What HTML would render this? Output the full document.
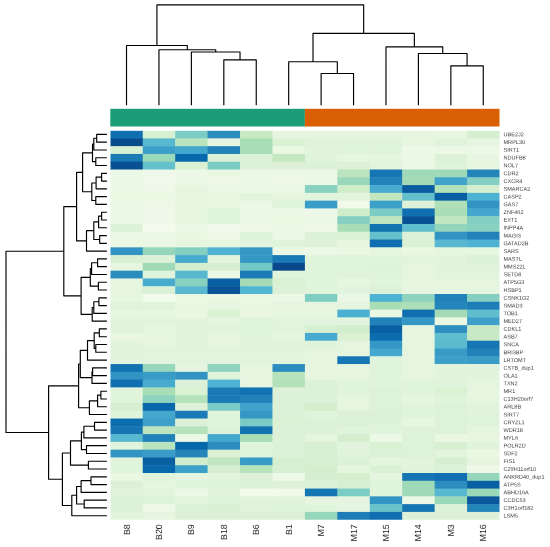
<!DOCTYPE html>
<html><head><meta charset="utf-8"><title>Clustermap</title>
<style>
html,body{margin:0;padding:0;background:#fff}
svg{display:block}
text{font-family:"Liberation Sans",Arial,sans-serif;text-rendering:geometricPrecision}
.rl{font-size:5.55px;fill:#444}
.cl{font-size:8.9px;fill:#262626}
.d{fill:none;stroke:#000;stroke-width:1.15;stroke-linejoin:round}
</style></head><body>
<svg width="550" height="547" viewBox="0 0 550 547">
<rect width="550" height="547" fill="#fff"/>
<defs><clipPath id="hc"><rect x="110.30" y="130.60" width="389.20" height="389.10"/></clipPath></defs>
<g clip-path="url(#hc)">
<rect x="110.30" y="130.60" width="32.93" height="8.28" fill="#0f6fb0"/><rect x="142.73" y="130.60" width="32.93" height="8.28" fill="#d8f0d2"/><rect x="175.17" y="130.60" width="32.93" height="8.28" fill="#7bccc4"/><rect x="207.60" y="130.60" width="32.93" height="8.28" fill="#2b8cbe"/><rect x="240.03" y="130.60" width="32.93" height="8.28" fill="#c8eac3"/><rect x="272.47" y="130.60" width="32.93" height="8.28" fill="#e5f5df"/><rect x="304.90" y="130.60" width="32.93" height="8.28" fill="#e5f5df"/><rect x="337.33" y="130.60" width="32.93" height="8.28" fill="#e5f5df"/><rect x="369.77" y="130.60" width="32.93" height="8.28" fill="#e5f5df"/><rect x="402.20" y="130.60" width="32.93" height="8.28" fill="#e5f5df"/><rect x="434.63" y="130.60" width="32.93" height="8.28" fill="#e7f6e1"/><rect x="467.07" y="130.60" width="32.93" height="8.28" fill="#d6efd0"/>
<rect x="110.30" y="138.38" width="32.93" height="8.28" fill="#084c8e"/><rect x="142.73" y="138.38" width="32.93" height="8.28" fill="#57b8d0"/><rect x="175.17" y="138.38" width="32.93" height="8.28" fill="#bae4bd"/><rect x="207.60" y="138.38" width="32.93" height="8.28" fill="#e5f5df"/><rect x="240.03" y="138.38" width="32.93" height="8.28" fill="#a8ddb5"/><rect x="272.47" y="138.38" width="32.93" height="8.28" fill="#daf1d4"/><rect x="304.90" y="138.38" width="32.93" height="8.28" fill="#e0f3db"/><rect x="337.33" y="138.38" width="32.93" height="8.28" fill="#e0f3db"/><rect x="369.77" y="138.38" width="32.93" height="8.28" fill="#e0f3db"/><rect x="402.20" y="138.38" width="32.93" height="8.28" fill="#e7f6e1"/><rect x="434.63" y="138.38" width="32.93" height="8.28" fill="#e0f3db"/><rect x="467.07" y="138.38" width="32.93" height="8.28" fill="#e5f5df"/>
<rect x="110.30" y="146.16" width="32.93" height="8.28" fill="#d6efd0"/><rect x="142.73" y="146.16" width="32.93" height="8.28" fill="#3ca0c8"/><rect x="175.17" y="146.16" width="32.93" height="8.28" fill="#44a7cd"/><rect x="207.60" y="146.16" width="32.93" height="8.28" fill="#2181b9"/><rect x="240.03" y="146.16" width="32.93" height="8.28" fill="#a8ddb5"/><rect x="272.47" y="146.16" width="32.93" height="8.28" fill="#e9f7e3"/><rect x="304.90" y="146.16" width="32.93" height="8.28" fill="#e2f4dd"/><rect x="337.33" y="146.16" width="32.93" height="8.28" fill="#e0f3db"/><rect x="369.77" y="146.16" width="32.93" height="8.28" fill="#e0f3db"/><rect x="402.20" y="146.16" width="32.93" height="8.28" fill="#eef8e8"/><rect x="434.63" y="146.16" width="32.93" height="8.28" fill="#ecf8e6"/><rect x="467.07" y="146.16" width="32.93" height="8.28" fill="#ecf8e6"/>
<rect x="110.30" y="153.95" width="32.93" height="8.28" fill="#1a7ab5"/><rect x="142.73" y="153.95" width="32.93" height="8.28" fill="#9ad8ba"/><rect x="175.17" y="153.95" width="32.93" height="8.28" fill="#0868ac"/><rect x="207.60" y="153.95" width="32.93" height="8.28" fill="#dcf1d7"/><rect x="240.03" y="153.95" width="32.93" height="8.28" fill="#dcf1d7"/><rect x="272.47" y="153.95" width="32.93" height="8.28" fill="#c5e8c2"/><rect x="304.90" y="153.95" width="32.93" height="8.28" fill="#e0f3db"/><rect x="337.33" y="153.95" width="32.93" height="8.28" fill="#e7f6e1"/><rect x="369.77" y="153.95" width="32.93" height="8.28" fill="#e5f5df"/><rect x="402.20" y="153.95" width="32.93" height="8.28" fill="#ecf8e6"/><rect x="434.63" y="153.95" width="32.93" height="8.28" fill="#dcf1d7"/><rect x="467.07" y="153.95" width="32.93" height="8.28" fill="#e7f6e1"/>
<rect x="110.30" y="161.73" width="32.93" height="8.28" fill="#085092"/><rect x="142.73" y="161.73" width="32.93" height="8.28" fill="#64c0cc"/><rect x="175.17" y="161.73" width="32.93" height="8.28" fill="#daf1d4"/><rect x="207.60" y="161.73" width="32.93" height="8.28" fill="#7bccc4"/><rect x="240.03" y="161.73" width="32.93" height="8.28" fill="#dcf1d7"/><rect x="272.47" y="161.73" width="32.93" height="8.28" fill="#dcf1d7"/><rect x="304.90" y="161.73" width="32.93" height="8.28" fill="#dcf1d7"/><rect x="337.33" y="161.73" width="32.93" height="8.28" fill="#dcf1d7"/><rect x="369.77" y="161.73" width="32.93" height="8.28" fill="#e2f4dd"/><rect x="402.20" y="161.73" width="32.93" height="8.28" fill="#ecf8e6"/><rect x="434.63" y="161.73" width="32.93" height="8.28" fill="#e0f3db"/><rect x="467.07" y="161.73" width="32.93" height="8.28" fill="#e7f6e1"/>
<rect x="110.30" y="169.51" width="32.93" height="8.28" fill="#ecf8e6"/><rect x="142.73" y="169.51" width="32.93" height="8.28" fill="#eef8e8"/><rect x="175.17" y="169.51" width="32.93" height="8.28" fill="#ecf8e6"/><rect x="207.60" y="169.51" width="32.93" height="8.28" fill="#e9f7e3"/><rect x="240.03" y="169.51" width="32.93" height="8.28" fill="#ecf8e6"/><rect x="272.47" y="169.51" width="32.93" height="8.28" fill="#ecf8e6"/><rect x="304.90" y="169.51" width="32.93" height="8.28" fill="#ecf8e6"/><rect x="337.33" y="169.51" width="32.93" height="8.28" fill="#bae4bd"/><rect x="369.77" y="169.51" width="32.93" height="8.28" fill="#1676b3"/><rect x="402.20" y="169.51" width="32.93" height="8.28" fill="#9fdab8"/><rect x="434.63" y="169.51" width="32.93" height="8.28" fill="#9fdab8"/><rect x="467.07" y="169.51" width="32.93" height="8.28" fill="#2485ba"/>
<rect x="110.30" y="177.29" width="32.93" height="8.28" fill="#ecf8e6"/><rect x="142.73" y="177.29" width="32.93" height="8.28" fill="#f0f9ea"/><rect x="175.17" y="177.29" width="32.93" height="8.28" fill="#ecf8e6"/><rect x="207.60" y="177.29" width="32.93" height="8.28" fill="#eef8e8"/><rect x="240.03" y="177.29" width="32.93" height="8.28" fill="#ecf8e6"/><rect x="272.47" y="177.29" width="32.93" height="8.28" fill="#eef8e8"/><rect x="304.90" y="177.29" width="32.93" height="8.28" fill="#ecf8e6"/><rect x="337.33" y="177.29" width="32.93" height="8.28" fill="#9ad8ba"/><rect x="369.77" y="177.29" width="32.93" height="8.28" fill="#2181b9"/><rect x="402.20" y="177.29" width="32.93" height="8.28" fill="#a4dbb6"/><rect x="434.63" y="177.29" width="32.93" height="8.28" fill="#40a3cb"/><rect x="467.07" y="177.29" width="32.93" height="8.28" fill="#84cfc1"/>
<rect x="110.30" y="185.07" width="32.93" height="8.28" fill="#ecf8e6"/><rect x="142.73" y="185.07" width="32.93" height="8.28" fill="#eef8e8"/><rect x="175.17" y="185.07" width="32.93" height="8.28" fill="#e5f5df"/><rect x="207.60" y="185.07" width="32.93" height="8.28" fill="#ecf8e6"/><rect x="240.03" y="185.07" width="32.93" height="8.28" fill="#ecf8e6"/><rect x="272.47" y="185.07" width="32.93" height="8.28" fill="#ecf8e6"/><rect x="304.90" y="185.07" width="32.93" height="8.28" fill="#88d1c0"/><rect x="337.33" y="185.07" width="32.93" height="8.28" fill="#d0edc9"/><rect x="369.77" y="185.07" width="32.93" height="8.28" fill="#47abcf"/><rect x="402.20" y="185.07" width="32.93" height="8.28" fill="#085c9f"/><rect x="434.63" y="185.07" width="32.93" height="8.28" fill="#b3e1ba"/><rect x="467.07" y="185.07" width="32.93" height="8.28" fill="#d6efd0"/>
<rect x="110.30" y="192.86" width="32.93" height="8.28" fill="#e9f7e3"/><rect x="142.73" y="192.86" width="32.93" height="8.28" fill="#e9f7e3"/><rect x="175.17" y="192.86" width="32.93" height="8.28" fill="#e6f5e0"/><rect x="207.60" y="192.86" width="32.93" height="8.28" fill="#e7f6e1"/><rect x="240.03" y="192.86" width="32.93" height="8.28" fill="#e2f4dd"/><rect x="272.47" y="192.86" width="32.93" height="8.28" fill="#e5f5df"/><rect x="304.90" y="192.86" width="32.93" height="8.28" fill="#e2f4dd"/><rect x="337.33" y="192.86" width="32.93" height="8.28" fill="#e2f4dd"/><rect x="369.77" y="192.86" width="32.93" height="8.28" fill="#c3e8c1"/><rect x="402.20" y="192.86" width="32.93" height="8.28" fill="#64c0cc"/><rect x="434.63" y="192.86" width="32.93" height="8.28" fill="#0860a3"/><rect x="467.07" y="192.86" width="32.93" height="8.28" fill="#4eb3d3"/>
<rect x="110.30" y="200.64" width="32.93" height="8.28" fill="#ecf8e6"/><rect x="142.73" y="200.64" width="32.93" height="8.28" fill="#eef8e8"/><rect x="175.17" y="200.64" width="32.93" height="8.28" fill="#e7f6e1"/><rect x="207.60" y="200.64" width="32.93" height="8.28" fill="#e9f7e3"/><rect x="240.03" y="200.64" width="32.93" height="8.28" fill="#ecf8e6"/><rect x="272.47" y="200.64" width="32.93" height="8.28" fill="#e0f3db"/><rect x="304.90" y="200.64" width="32.93" height="8.28" fill="#399cc6"/><rect x="337.33" y="200.64" width="32.93" height="8.28" fill="#f0f9ea"/><rect x="369.77" y="200.64" width="32.93" height="8.28" fill="#3ca0c8"/><rect x="402.20" y="200.64" width="32.93" height="8.28" fill="#def2d9"/><rect x="434.63" y="200.64" width="32.93" height="8.28" fill="#afe0b8"/><rect x="467.07" y="200.64" width="32.93" height="8.28" fill="#3294c2"/>
<rect x="110.30" y="208.42" width="32.93" height="8.28" fill="#ecf8e6"/><rect x="142.73" y="208.42" width="32.93" height="8.28" fill="#eff9e9"/><rect x="175.17" y="208.42" width="32.93" height="8.28" fill="#e5f5df"/><rect x="207.60" y="208.42" width="32.93" height="8.28" fill="#e0f3db"/><rect x="240.03" y="208.42" width="32.93" height="8.28" fill="#ecf8e6"/><rect x="272.47" y="208.42" width="32.93" height="8.28" fill="#ecf8e6"/><rect x="304.90" y="208.42" width="32.93" height="8.28" fill="#eef8e8"/><rect x="337.33" y="208.42" width="32.93" height="8.28" fill="#d0edc9"/><rect x="369.77" y="208.42" width="32.93" height="8.28" fill="#7bccc4"/><rect x="402.20" y="208.42" width="32.93" height="8.28" fill="#0f6fb0"/><rect x="434.63" y="208.42" width="32.93" height="8.28" fill="#a8ddb5"/><rect x="467.07" y="208.42" width="32.93" height="8.28" fill="#44a7cd"/>
<rect x="110.30" y="216.20" width="32.93" height="8.28" fill="#ecf8e6"/><rect x="142.73" y="216.20" width="32.93" height="8.28" fill="#eff9e9"/><rect x="175.17" y="216.20" width="32.93" height="8.28" fill="#e5f5df"/><rect x="207.60" y="216.20" width="32.93" height="8.28" fill="#e0f3db"/><rect x="240.03" y="216.20" width="32.93" height="8.28" fill="#ecf8e6"/><rect x="272.47" y="216.20" width="32.93" height="8.28" fill="#e9f7e3"/><rect x="304.90" y="216.20" width="32.93" height="8.28" fill="#ecf8e6"/><rect x="337.33" y="216.20" width="32.93" height="8.28" fill="#84cfc1"/><rect x="369.77" y="216.20" width="32.93" height="8.28" fill="#bee5bf"/><rect x="402.20" y="216.20" width="32.93" height="8.28" fill="#085092"/><rect x="434.63" y="216.20" width="32.93" height="8.28" fill="#c1e7c0"/><rect x="467.07" y="216.20" width="32.93" height="8.28" fill="#84cfc1"/>
<rect x="110.30" y="223.98" width="32.93" height="8.28" fill="#dcf1d7"/><rect x="142.73" y="223.98" width="32.93" height="8.28" fill="#f4fbed"/><rect x="175.17" y="223.98" width="32.93" height="8.28" fill="#ecf8e6"/><rect x="207.60" y="223.98" width="32.93" height="8.28" fill="#f0f9ea"/><rect x="240.03" y="223.98" width="32.93" height="8.28" fill="#eef8e8"/><rect x="272.47" y="223.98" width="32.93" height="8.28" fill="#ecf8e6"/><rect x="304.90" y="223.98" width="32.93" height="8.28" fill="#eef8e8"/><rect x="337.33" y="223.98" width="32.93" height="8.28" fill="#a8ddb5"/><rect x="369.77" y="223.98" width="32.93" height="8.28" fill="#1273b1"/><rect x="402.20" y="223.98" width="32.93" height="8.28" fill="#60bdcd"/><rect x="434.63" y="223.98" width="32.93" height="8.28" fill="#92d4bc"/><rect x="467.07" y="223.98" width="32.93" height="8.28" fill="#88d1c0"/>
<rect x="110.30" y="231.77" width="32.93" height="8.28" fill="#eaf7e4"/><rect x="142.73" y="231.77" width="32.93" height="8.28" fill="#ecf8e6"/><rect x="175.17" y="231.77" width="32.93" height="8.28" fill="#e9f7e3"/><rect x="207.60" y="231.77" width="32.93" height="8.28" fill="#eff9e9"/><rect x="240.03" y="231.77" width="32.93" height="8.28" fill="#def2d9"/><rect x="272.47" y="231.77" width="32.93" height="8.28" fill="#ecf8e6"/><rect x="304.90" y="231.77" width="32.93" height="8.28" fill="#dcf1d7"/><rect x="337.33" y="231.77" width="32.93" height="8.28" fill="#daf1d4"/><rect x="369.77" y="231.77" width="32.93" height="8.28" fill="#64c0cc"/><rect x="402.20" y="231.77" width="32.93" height="8.28" fill="#dcf1d7"/><rect x="434.63" y="231.77" width="32.93" height="8.28" fill="#3294c2"/><rect x="467.07" y="231.77" width="32.93" height="8.28" fill="#2181b9"/>
<rect x="110.30" y="239.55" width="32.93" height="8.28" fill="#e9f7e3"/><rect x="142.73" y="239.55" width="32.93" height="8.28" fill="#e9f7e3"/><rect x="175.17" y="239.55" width="32.93" height="8.28" fill="#e5f5df"/><rect x="207.60" y="239.55" width="32.93" height="8.28" fill="#e7f6e1"/><rect x="240.03" y="239.55" width="32.93" height="8.28" fill="#e2f4dd"/><rect x="272.47" y="239.55" width="32.93" height="8.28" fill="#e0f3db"/><rect x="304.90" y="239.55" width="32.93" height="8.28" fill="#def2d9"/><rect x="337.33" y="239.55" width="32.93" height="8.28" fill="#e7f6e1"/><rect x="369.77" y="239.55" width="32.93" height="8.28" fill="#0f6fb0"/><rect x="402.20" y="239.55" width="32.93" height="8.28" fill="#daf1d4"/><rect x="434.63" y="239.55" width="32.93" height="8.28" fill="#57b8d0"/><rect x="467.07" y="239.55" width="32.93" height="8.28" fill="#4eb3d3"/>
<rect x="110.30" y="247.33" width="32.93" height="8.28" fill="#3294c2"/><rect x="142.73" y="247.33" width="32.93" height="8.28" fill="#96d6bb"/><rect x="175.17" y="247.33" width="32.93" height="8.28" fill="#84cfc1"/><rect x="207.60" y="247.33" width="32.93" height="8.28" fill="#4eb3d3"/><rect x="240.03" y="247.33" width="32.93" height="8.28" fill="#3598c4"/><rect x="272.47" y="247.33" width="32.93" height="8.28" fill="#ecf8e6"/><rect x="304.90" y="247.33" width="32.93" height="8.28" fill="#ecf8e6"/><rect x="337.33" y="247.33" width="32.93" height="8.28" fill="#e9f7e3"/><rect x="369.77" y="247.33" width="32.93" height="8.28" fill="#e5f5df"/><rect x="402.20" y="247.33" width="32.93" height="8.28" fill="#e9f7e3"/><rect x="434.63" y="247.33" width="32.93" height="8.28" fill="#e7f6e1"/><rect x="467.07" y="247.33" width="32.93" height="8.28" fill="#e7f6e1"/>
<rect x="110.30" y="255.11" width="32.93" height="8.28" fill="#d8f0d2"/><rect x="142.73" y="255.11" width="32.93" height="8.28" fill="#dcf1d7"/><rect x="175.17" y="255.11" width="32.93" height="8.28" fill="#47abcf"/><rect x="207.60" y="255.11" width="32.93" height="8.28" fill="#e2f4dd"/><rect x="240.03" y="255.11" width="32.93" height="8.28" fill="#3598c4"/><rect x="272.47" y="255.11" width="32.93" height="8.28" fill="#1a7ab5"/><rect x="304.90" y="255.11" width="32.93" height="8.28" fill="#e0f3db"/><rect x="337.33" y="255.11" width="32.93" height="8.28" fill="#e0f3db"/><rect x="369.77" y="255.11" width="32.93" height="8.28" fill="#e0f3db"/><rect x="402.20" y="255.11" width="32.93" height="8.28" fill="#e2f4dd"/><rect x="434.63" y="255.11" width="32.93" height="8.28" fill="#e2f4dd"/><rect x="467.07" y="255.11" width="32.93" height="8.28" fill="#dcf1d7"/>
<rect x="110.30" y="262.89" width="32.93" height="8.28" fill="#e7f6e1"/><rect x="142.73" y="262.89" width="32.93" height="8.28" fill="#a1dab7"/><rect x="175.17" y="262.89" width="32.93" height="8.28" fill="#d4eece"/><rect x="207.60" y="262.89" width="32.93" height="8.28" fill="#d6efd0"/><rect x="240.03" y="262.89" width="32.93" height="8.28" fill="#72c7c7"/><rect x="272.47" y="262.89" width="32.93" height="8.28" fill="#08488a"/><rect x="304.90" y="262.89" width="32.93" height="8.28" fill="#e0f3db"/><rect x="337.33" y="262.89" width="32.93" height="8.28" fill="#e0f3db"/><rect x="369.77" y="262.89" width="32.93" height="8.28" fill="#def2d9"/><rect x="402.20" y="262.89" width="32.93" height="8.28" fill="#e5f5df"/><rect x="434.63" y="262.89" width="32.93" height="8.28" fill="#e2f4dd"/><rect x="467.07" y="262.89" width="32.93" height="8.28" fill="#e0f3db"/>
<rect x="110.30" y="270.68" width="32.93" height="8.28" fill="#2b8cbe"/><rect x="142.73" y="270.68" width="32.93" height="8.28" fill="#e0f3db"/><rect x="175.17" y="270.68" width="32.93" height="8.28" fill="#57b8d0"/><rect x="207.60" y="270.68" width="32.93" height="8.28" fill="#ecf8e6"/><rect x="240.03" y="270.68" width="32.93" height="8.28" fill="#1a7ab5"/><rect x="272.47" y="270.68" width="32.93" height="8.28" fill="#e0f3db"/><rect x="304.90" y="270.68" width="32.93" height="8.28" fill="#e0f3db"/><rect x="337.33" y="270.68" width="32.93" height="8.28" fill="#e0f3db"/><rect x="369.77" y="270.68" width="32.93" height="8.28" fill="#e0f3db"/><rect x="402.20" y="270.68" width="32.93" height="8.28" fill="#e5f5df"/><rect x="434.63" y="270.68" width="32.93" height="8.28" fill="#e2f4dd"/><rect x="467.07" y="270.68" width="32.93" height="8.28" fill="#e2f4dd"/>
<rect x="110.30" y="278.46" width="32.93" height="8.28" fill="#e6f5e0"/><rect x="142.73" y="278.46" width="32.93" height="8.28" fill="#47abcf"/><rect x="175.17" y="278.46" width="32.93" height="8.28" fill="#88d1c0"/><rect x="207.60" y="278.46" width="32.93" height="8.28" fill="#0860a3"/><rect x="240.03" y="278.46" width="32.93" height="8.28" fill="#a4dbb6"/><rect x="272.47" y="278.46" width="32.93" height="8.28" fill="#daf1d4"/><rect x="304.90" y="278.46" width="32.93" height="8.28" fill="#e0f3db"/><rect x="337.33" y="278.46" width="32.93" height="8.28" fill="#e7f6e1"/><rect x="369.77" y="278.46" width="32.93" height="8.28" fill="#e0f3db"/><rect x="402.20" y="278.46" width="32.93" height="8.28" fill="#e7f6e1"/><rect x="434.63" y="278.46" width="32.93" height="8.28" fill="#e5f5df"/><rect x="467.07" y="278.46" width="32.93" height="8.28" fill="#e5f5df"/>
<rect x="110.30" y="286.24" width="32.93" height="8.28" fill="#e6f5e0"/><rect x="142.73" y="286.24" width="32.93" height="8.28" fill="#dbf1d6"/><rect x="175.17" y="286.24" width="32.93" height="8.28" fill="#57b8d0"/><rect x="207.60" y="286.24" width="32.93" height="8.28" fill="#085496"/><rect x="240.03" y="286.24" width="32.93" height="8.28" fill="#52b6d2"/><rect x="272.47" y="286.24" width="32.93" height="8.28" fill="#dcf1d7"/><rect x="304.90" y="286.24" width="32.93" height="8.28" fill="#e0f3db"/><rect x="337.33" y="286.24" width="32.93" height="8.28" fill="#e2f4dd"/><rect x="369.77" y="286.24" width="32.93" height="8.28" fill="#dcf1d7"/><rect x="402.20" y="286.24" width="32.93" height="8.28" fill="#e5f5df"/><rect x="434.63" y="286.24" width="32.93" height="8.28" fill="#e5f5df"/><rect x="467.07" y="286.24" width="32.93" height="8.28" fill="#e5f5df"/>
<rect x="110.30" y="294.02" width="32.93" height="8.28" fill="#e7f6e1"/><rect x="142.73" y="294.02" width="32.93" height="8.28" fill="#f2faec"/><rect x="175.17" y="294.02" width="32.93" height="8.28" fill="#e9f7e3"/><rect x="207.60" y="294.02" width="32.93" height="8.28" fill="#e9f7e3"/><rect x="240.03" y="294.02" width="32.93" height="8.28" fill="#e9f7e3"/><rect x="272.47" y="294.02" width="32.93" height="8.28" fill="#ecf8e6"/><rect x="304.90" y="294.02" width="32.93" height="8.28" fill="#80cec2"/><rect x="337.33" y="294.02" width="32.93" height="8.28" fill="#ecf8e6"/><rect x="369.77" y="294.02" width="32.93" height="8.28" fill="#4eb3d3"/><rect x="402.20" y="294.02" width="32.93" height="8.28" fill="#8dd3be"/><rect x="434.63" y="294.02" width="32.93" height="8.28" fill="#2181b9"/><rect x="467.07" y="294.02" width="32.93" height="8.28" fill="#84cfc1"/>
<rect x="110.30" y="301.80" width="32.93" height="8.28" fill="#e0f3db"/><rect x="142.73" y="301.80" width="32.93" height="8.28" fill="#e0f3db"/><rect x="175.17" y="301.80" width="32.93" height="8.28" fill="#e9f7e3"/><rect x="207.60" y="301.80" width="32.93" height="8.28" fill="#e7f6e1"/><rect x="240.03" y="301.80" width="32.93" height="8.28" fill="#e9f7e3"/><rect x="272.47" y="301.80" width="32.93" height="8.28" fill="#e6f5e0"/><rect x="304.90" y="301.80" width="32.93" height="8.28" fill="#e5f5df"/><rect x="337.33" y="301.80" width="32.93" height="8.28" fill="#e5f5df"/><rect x="369.77" y="301.80" width="32.93" height="8.28" fill="#a8ddb5"/><rect x="402.20" y="301.80" width="32.93" height="8.28" fill="#acdeb7"/><rect x="434.63" y="301.80" width="32.93" height="8.28" fill="#2485ba"/><rect x="467.07" y="301.80" width="32.93" height="8.28" fill="#1d7eb7"/>
<rect x="110.30" y="309.59" width="32.93" height="8.28" fill="#e7f6e1"/><rect x="142.73" y="309.59" width="32.93" height="8.28" fill="#e7f6e1"/><rect x="175.17" y="309.59" width="32.93" height="8.28" fill="#e9f7e3"/><rect x="207.60" y="309.59" width="32.93" height="8.28" fill="#daf1d4"/><rect x="240.03" y="309.59" width="32.93" height="8.28" fill="#e9f7e3"/><rect x="272.47" y="309.59" width="32.93" height="8.28" fill="#e7f6e1"/><rect x="304.90" y="309.59" width="32.93" height="8.28" fill="#e7f6e1"/><rect x="337.33" y="309.59" width="32.93" height="8.28" fill="#4bafd1"/><rect x="369.77" y="309.59" width="32.93" height="8.28" fill="#e9f7e3"/><rect x="402.20" y="309.59" width="32.93" height="8.28" fill="#0f6fb0"/><rect x="434.63" y="309.59" width="32.93" height="8.28" fill="#a4dbb6"/><rect x="467.07" y="309.59" width="32.93" height="8.28" fill="#60bdcd"/>
<rect x="110.30" y="317.37" width="32.93" height="8.28" fill="#e2f4dd"/><rect x="142.73" y="317.37" width="32.93" height="8.28" fill="#e2f4dd"/><rect x="175.17" y="317.37" width="32.93" height="8.28" fill="#e2f4dd"/><rect x="207.60" y="317.37" width="32.93" height="8.28" fill="#e5f5df"/><rect x="240.03" y="317.37" width="32.93" height="8.28" fill="#e0f3db"/><rect x="272.47" y="317.37" width="32.93" height="8.28" fill="#e2f4dd"/><rect x="304.90" y="317.37" width="32.93" height="8.28" fill="#e2f4dd"/><rect x="337.33" y="317.37" width="32.93" height="8.28" fill="#e2f4dd"/><rect x="369.77" y="317.37" width="32.93" height="8.28" fill="#2181b9"/><rect x="402.20" y="317.37" width="32.93" height="8.28" fill="#3598c4"/><rect x="434.63" y="317.37" width="32.93" height="8.28" fill="#e9f7e3"/><rect x="467.07" y="317.37" width="32.93" height="8.28" fill="#3ca0c8"/>
<rect x="110.30" y="325.15" width="32.93" height="8.28" fill="#e1f3dc"/><rect x="142.73" y="325.15" width="32.93" height="8.28" fill="#e5f5df"/><rect x="175.17" y="325.15" width="32.93" height="8.28" fill="#e1f3dc"/><rect x="207.60" y="325.15" width="32.93" height="8.28" fill="#e3f4de"/><rect x="240.03" y="325.15" width="32.93" height="8.28" fill="#e0f3db"/><rect x="272.47" y="325.15" width="32.93" height="8.28" fill="#e2f4dd"/><rect x="304.90" y="325.15" width="32.93" height="8.28" fill="#d8f0d2"/><rect x="337.33" y="325.15" width="32.93" height="8.28" fill="#d3eecd"/><rect x="369.77" y="325.15" width="32.93" height="8.28" fill="#0860a3"/><rect x="402.20" y="325.15" width="32.93" height="8.28" fill="#e6f5e0"/><rect x="434.63" y="325.15" width="32.93" height="8.28" fill="#2e90c0"/><rect x="467.07" y="325.15" width="32.93" height="8.28" fill="#c7e9c3"/>
<rect x="110.30" y="332.93" width="32.93" height="8.28" fill="#e9f7e3"/><rect x="142.73" y="332.93" width="32.93" height="8.28" fill="#e5f5df"/><rect x="175.17" y="332.93" width="32.93" height="8.28" fill="#e1f3dc"/><rect x="207.60" y="332.93" width="32.93" height="8.28" fill="#e5f5df"/><rect x="240.03" y="332.93" width="32.93" height="8.28" fill="#e0f3db"/><rect x="272.47" y="332.93" width="32.93" height="8.28" fill="#e5f5df"/><rect x="304.90" y="332.93" width="32.93" height="8.28" fill="#47abcf"/><rect x="337.33" y="332.93" width="32.93" height="8.28" fill="#daf1d4"/><rect x="369.77" y="332.93" width="32.93" height="8.28" fill="#0b6cae"/><rect x="402.20" y="332.93" width="32.93" height="8.28" fill="#e6f5e0"/><rect x="434.63" y="332.93" width="32.93" height="8.28" fill="#60bdcd"/><rect x="467.07" y="332.93" width="32.93" height="8.28" fill="#c7e9c3"/>
<rect x="110.30" y="340.71" width="32.93" height="8.28" fill="#e2f4dd"/><rect x="142.73" y="340.71" width="32.93" height="8.28" fill="#e6f5e0"/><rect x="175.17" y="340.71" width="32.93" height="8.28" fill="#e2f4dd"/><rect x="207.60" y="340.71" width="32.93" height="8.28" fill="#e5f5df"/><rect x="240.03" y="340.71" width="32.93" height="8.28" fill="#e1f3dc"/><rect x="272.47" y="340.71" width="32.93" height="8.28" fill="#e2f4dd"/><rect x="304.90" y="340.71" width="32.93" height="8.28" fill="#dff3da"/><rect x="337.33" y="340.71" width="32.93" height="8.28" fill="#e5f5df"/><rect x="369.77" y="340.71" width="32.93" height="8.28" fill="#3598c4"/><rect x="402.20" y="340.71" width="32.93" height="8.28" fill="#e6f5e0"/><rect x="434.63" y="340.71" width="32.93" height="8.28" fill="#5cbace"/><rect x="467.07" y="340.71" width="32.93" height="8.28" fill="#1676b3"/>
<rect x="110.30" y="348.50" width="32.93" height="8.28" fill="#e1f3dc"/><rect x="142.73" y="348.50" width="32.93" height="8.28" fill="#e3f4de"/><rect x="175.17" y="348.50" width="32.93" height="8.28" fill="#e2f4dd"/><rect x="207.60" y="348.50" width="32.93" height="8.28" fill="#e3f4de"/><rect x="240.03" y="348.50" width="32.93" height="8.28" fill="#e2f4dd"/><rect x="272.47" y="348.50" width="32.93" height="8.28" fill="#e2f4dd"/><rect x="304.90" y="348.50" width="32.93" height="8.28" fill="#e5f5df"/><rect x="337.33" y="348.50" width="32.93" height="8.28" fill="#e5f5df"/><rect x="369.77" y="348.50" width="32.93" height="8.28" fill="#44a7cd"/><rect x="402.20" y="348.50" width="32.93" height="8.28" fill="#e6f5e0"/><rect x="434.63" y="348.50" width="32.93" height="8.28" fill="#399cc6"/><rect x="467.07" y="348.50" width="32.93" height="8.28" fill="#2181b9"/>
<rect x="110.30" y="356.28" width="32.93" height="8.28" fill="#e2f4dd"/><rect x="142.73" y="356.28" width="32.93" height="8.28" fill="#e3f4de"/><rect x="175.17" y="356.28" width="32.93" height="8.28" fill="#e2f4dd"/><rect x="207.60" y="356.28" width="32.93" height="8.28" fill="#e3f4de"/><rect x="240.03" y="356.28" width="32.93" height="8.28" fill="#e2f4dd"/><rect x="272.47" y="356.28" width="32.93" height="8.28" fill="#e2f4dd"/><rect x="304.90" y="356.28" width="32.93" height="8.28" fill="#e5f5df"/><rect x="337.33" y="356.28" width="32.93" height="8.28" fill="#1676b3"/><rect x="369.77" y="356.28" width="32.93" height="8.28" fill="#e0f3db"/><rect x="402.20" y="356.28" width="32.93" height="8.28" fill="#e6f5e0"/><rect x="434.63" y="356.28" width="32.93" height="8.28" fill="#3ca0c8"/><rect x="467.07" y="356.28" width="32.93" height="8.28" fill="#399cc6"/>
<rect x="110.30" y="364.06" width="32.93" height="8.28" fill="#1273b1"/><rect x="142.73" y="364.06" width="32.93" height="8.28" fill="#96d6bb"/><rect x="175.17" y="364.06" width="32.93" height="8.28" fill="#e5f5df"/><rect x="207.60" y="364.06" width="32.93" height="8.28" fill="#8dd3be"/><rect x="240.03" y="364.06" width="32.93" height="8.28" fill="#e5f5df"/><rect x="272.47" y="364.06" width="32.93" height="8.28" fill="#2b8cbe"/><rect x="304.90" y="364.06" width="32.93" height="8.28" fill="#e5f5df"/><rect x="337.33" y="364.06" width="32.93" height="8.28" fill="#e5f5df"/><rect x="369.77" y="364.06" width="32.93" height="8.28" fill="#e0f3db"/><rect x="402.20" y="364.06" width="32.93" height="8.28" fill="#e5f5df"/><rect x="434.63" y="364.06" width="32.93" height="8.28" fill="#e2f4dd"/><rect x="467.07" y="364.06" width="32.93" height="8.28" fill="#e2f4dd"/>
<rect x="110.30" y="371.84" width="32.93" height="8.28" fill="#3294c2"/><rect x="142.73" y="371.84" width="32.93" height="8.28" fill="#399cc6"/><rect x="175.17" y="371.84" width="32.93" height="8.28" fill="#3294c2"/><rect x="207.60" y="371.84" width="32.93" height="8.28" fill="#e0f3db"/><rect x="240.03" y="371.84" width="32.93" height="8.28" fill="#e5f5df"/><rect x="272.47" y="371.84" width="32.93" height="8.28" fill="#b6e3bb"/><rect x="304.90" y="371.84" width="32.93" height="8.28" fill="#e5f5df"/><rect x="337.33" y="371.84" width="32.93" height="8.28" fill="#e5f5df"/><rect x="369.77" y="371.84" width="32.93" height="8.28" fill="#e0f3db"/><rect x="402.20" y="371.84" width="32.93" height="8.28" fill="#e5f5df"/><rect x="434.63" y="371.84" width="32.93" height="8.28" fill="#e2f4dd"/><rect x="467.07" y="371.84" width="32.93" height="8.28" fill="#e2f4dd"/>
<rect x="110.30" y="379.62" width="32.93" height="8.28" fill="#0f6fb0"/><rect x="142.73" y="379.62" width="32.93" height="8.28" fill="#47abcf"/><rect x="175.17" y="379.62" width="32.93" height="8.28" fill="#dcf1d7"/><rect x="207.60" y="379.62" width="32.93" height="8.28" fill="#4eb3d3"/><rect x="240.03" y="379.62" width="32.93" height="8.28" fill="#e6f5e0"/><rect x="272.47" y="379.62" width="32.93" height="8.28" fill="#b3e1ba"/><rect x="304.90" y="379.62" width="32.93" height="8.28" fill="#dcf1d7"/><rect x="337.33" y="379.62" width="32.93" height="8.28" fill="#e0f3db"/><rect x="369.77" y="379.62" width="32.93" height="8.28" fill="#e0f3db"/><rect x="402.20" y="379.62" width="32.93" height="8.28" fill="#e0f3db"/><rect x="434.63" y="379.62" width="32.93" height="8.28" fill="#e0f3db"/><rect x="467.07" y="379.62" width="32.93" height="8.28" fill="#e5f5df"/>
<rect x="110.30" y="387.41" width="32.93" height="8.28" fill="#e0f3db"/><rect x="142.73" y="387.41" width="32.93" height="8.28" fill="#a8ddb5"/><rect x="175.17" y="387.41" width="32.93" height="8.28" fill="#daf1d4"/><rect x="207.60" y="387.41" width="32.93" height="8.28" fill="#1a7ab5"/><rect x="240.03" y="387.41" width="32.93" height="8.28" fill="#1273b1"/><rect x="272.47" y="387.41" width="32.93" height="8.28" fill="#dcf1d7"/><rect x="304.90" y="387.41" width="32.93" height="8.28" fill="#dcf1d7"/><rect x="337.33" y="387.41" width="32.93" height="8.28" fill="#e0f3db"/><rect x="369.77" y="387.41" width="32.93" height="8.28" fill="#def2d9"/><rect x="402.20" y="387.41" width="32.93" height="8.28" fill="#e0f3db"/><rect x="434.63" y="387.41" width="32.93" height="8.28" fill="#daf1d4"/><rect x="467.07" y="387.41" width="32.93" height="8.28" fill="#e5f5df"/>
<rect x="110.30" y="395.19" width="32.93" height="8.28" fill="#e0f3db"/><rect x="142.73" y="395.19" width="32.93" height="8.28" fill="#8dd3be"/><rect x="175.17" y="395.19" width="32.93" height="8.28" fill="#b6e3bb"/><rect x="207.60" y="395.19" width="32.93" height="8.28" fill="#1a7ab5"/><rect x="240.03" y="395.19" width="32.93" height="8.28" fill="#2181b9"/><rect x="272.47" y="395.19" width="32.93" height="8.28" fill="#dcf1d7"/><rect x="304.90" y="395.19" width="32.93" height="8.28" fill="#dcf1d7"/><rect x="337.33" y="395.19" width="32.93" height="8.28" fill="#e5f5df"/><rect x="369.77" y="395.19" width="32.93" height="8.28" fill="#def2d9"/><rect x="402.20" y="395.19" width="32.93" height="8.28" fill="#e7f6e1"/><rect x="434.63" y="395.19" width="32.93" height="8.28" fill="#e0f3db"/><rect x="467.07" y="395.19" width="32.93" height="8.28" fill="#e5f5df"/>
<rect x="110.30" y="402.97" width="32.93" height="8.28" fill="#d6efd0"/><rect x="142.73" y="402.97" width="32.93" height="8.28" fill="#0868ac"/><rect x="175.17" y="402.97" width="32.93" height="8.28" fill="#dcf1d7"/><rect x="207.60" y="402.97" width="32.93" height="8.28" fill="#77cac6"/><rect x="240.03" y="402.97" width="32.93" height="8.28" fill="#40a3cb"/><rect x="272.47" y="402.97" width="32.93" height="8.28" fill="#dcf1d7"/><rect x="304.90" y="402.97" width="32.93" height="8.28" fill="#d4eece"/><rect x="337.33" y="402.97" width="32.93" height="8.28" fill="#e5f5df"/><rect x="369.77" y="402.97" width="32.93" height="8.28" fill="#def2d9"/><rect x="402.20" y="402.97" width="32.93" height="8.28" fill="#e0f3db"/><rect x="434.63" y="402.97" width="32.93" height="8.28" fill="#def2d9"/><rect x="467.07" y="402.97" width="32.93" height="8.28" fill="#e2f4dd"/>
<rect x="110.30" y="410.75" width="32.93" height="8.28" fill="#e0f3db"/><rect x="142.73" y="410.75" width="32.93" height="8.28" fill="#44a7cd"/><rect x="175.17" y="410.75" width="32.93" height="8.28" fill="#1a7ab5"/><rect x="207.60" y="410.75" width="32.93" height="8.28" fill="#e0f3db"/><rect x="240.03" y="410.75" width="32.93" height="8.28" fill="#3598c4"/><rect x="272.47" y="410.75" width="32.93" height="8.28" fill="#dcf1d7"/><rect x="304.90" y="410.75" width="32.93" height="8.28" fill="#e0f3db"/><rect x="337.33" y="410.75" width="32.93" height="8.28" fill="#dcf1d7"/><rect x="369.77" y="410.75" width="32.93" height="8.28" fill="#dcf1d7"/><rect x="402.20" y="410.75" width="32.93" height="8.28" fill="#e0f3db"/><rect x="434.63" y="410.75" width="32.93" height="8.28" fill="#def2d9"/><rect x="467.07" y="410.75" width="32.93" height="8.28" fill="#e0f3db"/>
<rect x="110.30" y="418.53" width="32.93" height="8.28" fill="#0b6cae"/><rect x="142.73" y="418.53" width="32.93" height="8.28" fill="#3ca0c8"/><rect x="175.17" y="418.53" width="32.93" height="8.28" fill="#dcf1d7"/><rect x="207.60" y="418.53" width="32.93" height="8.28" fill="#e0f3db"/><rect x="240.03" y="418.53" width="32.93" height="8.28" fill="#7bccc4"/><rect x="272.47" y="418.53" width="32.93" height="8.28" fill="#daf1d4"/><rect x="304.90" y="418.53" width="32.93" height="8.28" fill="#dcf1d7"/><rect x="337.33" y="418.53" width="32.93" height="8.28" fill="#dcf1d7"/><rect x="369.77" y="418.53" width="32.93" height="8.28" fill="#def2d9"/><rect x="402.20" y="418.53" width="32.93" height="8.28" fill="#e7f6e1"/><rect x="434.63" y="418.53" width="32.93" height="8.28" fill="#def2d9"/><rect x="467.07" y="418.53" width="32.93" height="8.28" fill="#e0f3db"/>
<rect x="110.30" y="426.32" width="32.93" height="8.28" fill="#1676b3"/><rect x="142.73" y="426.32" width="32.93" height="8.28" fill="#bee5bf"/><rect x="175.17" y="426.32" width="32.93" height="8.28" fill="#b6e3bb"/><rect x="207.60" y="426.32" width="32.93" height="8.28" fill="#dcf1d7"/><rect x="240.03" y="426.32" width="32.93" height="8.28" fill="#1273b1"/><rect x="272.47" y="426.32" width="32.93" height="8.28" fill="#dcf1d7"/><rect x="304.90" y="426.32" width="32.93" height="8.28" fill="#dcf1d7"/><rect x="337.33" y="426.32" width="32.93" height="8.28" fill="#e0f3db"/><rect x="369.77" y="426.32" width="32.93" height="8.28" fill="#e0f3db"/><rect x="402.20" y="426.32" width="32.93" height="8.28" fill="#def2d9"/><rect x="434.63" y="426.32" width="32.93" height="8.28" fill="#def2d9"/><rect x="467.07" y="426.32" width="32.93" height="8.28" fill="#e5f5df"/>
<rect x="110.30" y="434.10" width="32.93" height="8.28" fill="#57b8d0"/><rect x="142.73" y="434.10" width="32.93" height="8.28" fill="#2181b9"/><rect x="175.17" y="434.10" width="32.93" height="8.28" fill="#ecf8e6"/><rect x="207.60" y="434.10" width="32.93" height="8.28" fill="#44a7cd"/><rect x="240.03" y="434.10" width="32.93" height="8.28" fill="#a8ddb5"/><rect x="272.47" y="434.10" width="32.93" height="8.28" fill="#dcf1d7"/><rect x="304.90" y="434.10" width="32.93" height="8.28" fill="#e5f5df"/><rect x="337.33" y="434.10" width="32.93" height="8.28" fill="#d4eece"/><rect x="369.77" y="434.10" width="32.93" height="8.28" fill="#ecf8e6"/><rect x="402.20" y="434.10" width="32.93" height="8.28" fill="#def2d9"/><rect x="434.63" y="434.10" width="32.93" height="8.28" fill="#e9f7e3"/><rect x="467.07" y="434.10" width="32.93" height="8.28" fill="#e7f6e1"/>
<rect x="110.30" y="441.88" width="32.93" height="8.28" fill="#e0f3db"/><rect x="142.73" y="441.88" width="32.93" height="8.28" fill="#bae4bd"/><rect x="175.17" y="441.88" width="32.93" height="8.28" fill="#0868ac"/><rect x="207.60" y="441.88" width="32.93" height="8.28" fill="#2b8cbe"/><rect x="240.03" y="441.88" width="32.93" height="8.28" fill="#e0f3db"/><rect x="272.47" y="441.88" width="32.93" height="8.28" fill="#dcf1d7"/><rect x="304.90" y="441.88" width="32.93" height="8.28" fill="#d8f0d2"/><rect x="337.33" y="441.88" width="32.93" height="8.28" fill="#e2f4dd"/><rect x="369.77" y="441.88" width="32.93" height="8.28" fill="#daf1d4"/><rect x="402.20" y="441.88" width="32.93" height="8.28" fill="#def2d9"/><rect x="434.63" y="441.88" width="32.93" height="8.28" fill="#d8f0d2"/><rect x="467.07" y="441.88" width="32.93" height="8.28" fill="#e0f3db"/>
<rect x="110.30" y="449.66" width="32.93" height="8.28" fill="#3294c2"/><rect x="142.73" y="449.66" width="32.93" height="8.28" fill="#399cc6"/><rect x="175.17" y="449.66" width="32.93" height="8.28" fill="#2485ba"/><rect x="207.60" y="449.66" width="32.93" height="8.28" fill="#daf1d4"/><rect x="240.03" y="449.66" width="32.93" height="8.28" fill="#e0f3db"/><rect x="272.47" y="449.66" width="32.93" height="8.28" fill="#dcf1d7"/><rect x="304.90" y="449.66" width="32.93" height="8.28" fill="#d8f0d2"/><rect x="337.33" y="449.66" width="32.93" height="8.28" fill="#e0f3db"/><rect x="369.77" y="449.66" width="32.93" height="8.28" fill="#dcf1d7"/><rect x="402.20" y="449.66" width="32.93" height="8.28" fill="#def2d9"/><rect x="434.63" y="449.66" width="32.93" height="8.28" fill="#e2f4dd"/><rect x="467.07" y="449.66" width="32.93" height="8.28" fill="#e9f7e3"/>
<rect x="110.30" y="457.44" width="32.93" height="8.28" fill="#e0f3db"/><rect x="142.73" y="457.44" width="32.93" height="8.28" fill="#0860a3"/><rect x="175.17" y="457.44" width="32.93" height="8.28" fill="#d2edcc"/><rect x="207.60" y="457.44" width="32.93" height="8.28" fill="#c1e7c0"/><rect x="240.03" y="457.44" width="32.93" height="8.28" fill="#399cc6"/><rect x="272.47" y="457.44" width="32.93" height="8.28" fill="#d6efd0"/><rect x="304.90" y="457.44" width="32.93" height="8.28" fill="#d8f0d2"/><rect x="337.33" y="457.44" width="32.93" height="8.28" fill="#dcf1d7"/><rect x="369.77" y="457.44" width="32.93" height="8.28" fill="#e5f5df"/><rect x="402.20" y="457.44" width="32.93" height="8.28" fill="#e2f4dd"/><rect x="434.63" y="457.44" width="32.93" height="8.28" fill="#d6efd0"/><rect x="467.07" y="457.44" width="32.93" height="8.28" fill="#e5f5df"/>
<rect x="110.30" y="465.23" width="32.93" height="8.28" fill="#e0f3db"/><rect x="142.73" y="465.23" width="32.93" height="8.28" fill="#0868ac"/><rect x="175.17" y="465.23" width="32.93" height="8.28" fill="#3ca0c8"/><rect x="207.60" y="465.23" width="32.93" height="8.28" fill="#d6efd0"/><rect x="240.03" y="465.23" width="32.93" height="8.28" fill="#b6e3bb"/><rect x="272.47" y="465.23" width="32.93" height="8.28" fill="#d8f0d2"/><rect x="304.90" y="465.23" width="32.93" height="8.28" fill="#d4eece"/><rect x="337.33" y="465.23" width="32.93" height="8.28" fill="#e5f5df"/><rect x="369.77" y="465.23" width="32.93" height="8.28" fill="#daf1d4"/><rect x="402.20" y="465.23" width="32.93" height="8.28" fill="#e0f3db"/><rect x="434.63" y="465.23" width="32.93" height="8.28" fill="#dcf1d7"/><rect x="467.07" y="465.23" width="32.93" height="8.28" fill="#eef8e8"/>
<rect x="110.30" y="473.01" width="32.93" height="8.28" fill="#e9f7e3"/><rect x="142.73" y="473.01" width="32.93" height="8.28" fill="#e0f3db"/><rect x="175.17" y="473.01" width="32.93" height="8.28" fill="#e5f5df"/><rect x="207.60" y="473.01" width="32.93" height="8.28" fill="#e2f4dd"/><rect x="240.03" y="473.01" width="32.93" height="8.28" fill="#dcf1d7"/><rect x="272.47" y="473.01" width="32.93" height="8.28" fill="#eef8e8"/><rect x="304.90" y="473.01" width="32.93" height="8.28" fill="#d6efd0"/><rect x="337.33" y="473.01" width="32.93" height="8.28" fill="#d4eece"/><rect x="369.77" y="473.01" width="32.93" height="8.28" fill="#e5f5df"/><rect x="402.20" y="473.01" width="32.93" height="8.28" fill="#1676b3"/><rect x="434.63" y="473.01" width="32.93" height="8.28" fill="#0f6fb0"/><rect x="467.07" y="473.01" width="32.93" height="8.28" fill="#96d6bb"/>
<rect x="110.30" y="480.79" width="32.93" height="8.28" fill="#dcf1d7"/><rect x="142.73" y="480.79" width="32.93" height="8.28" fill="#e7f6e1"/><rect x="175.17" y="480.79" width="32.93" height="8.28" fill="#e0f3db"/><rect x="207.60" y="480.79" width="32.93" height="8.28" fill="#def2d9"/><rect x="240.03" y="480.79" width="32.93" height="8.28" fill="#dcf1d7"/><rect x="272.47" y="480.79" width="32.93" height="8.28" fill="#def2d9"/><rect x="304.90" y="480.79" width="32.93" height="8.28" fill="#dcf1d7"/><rect x="337.33" y="480.79" width="32.93" height="8.28" fill="#d8f0d2"/><rect x="369.77" y="480.79" width="32.93" height="8.28" fill="#e0f3db"/><rect x="402.20" y="480.79" width="32.93" height="8.28" fill="#9fdab8"/><rect x="434.63" y="480.79" width="32.93" height="8.28" fill="#2b8cbe"/><rect x="467.07" y="480.79" width="32.93" height="8.28" fill="#0860a3"/>
<rect x="110.30" y="488.57" width="32.93" height="8.28" fill="#e2f4dd"/><rect x="142.73" y="488.57" width="32.93" height="8.28" fill="#e2f4dd"/><rect x="175.17" y="488.57" width="32.93" height="8.28" fill="#ecf8e6"/><rect x="207.60" y="488.57" width="32.93" height="8.28" fill="#e2f4dd"/><rect x="240.03" y="488.57" width="32.93" height="8.28" fill="#f2faec"/><rect x="272.47" y="488.57" width="32.93" height="8.28" fill="#f0f9ea"/><rect x="304.90" y="488.57" width="32.93" height="8.28" fill="#1676b3"/><rect x="337.33" y="488.57" width="32.93" height="8.28" fill="#7bccc4"/><rect x="369.77" y="488.57" width="32.93" height="8.28" fill="#e0f3db"/><rect x="402.20" y="488.57" width="32.93" height="8.28" fill="#9fdab8"/><rect x="434.63" y="488.57" width="32.93" height="8.28" fill="#57b8d0"/><rect x="467.07" y="488.57" width="32.93" height="8.28" fill="#9ad8ba"/>
<rect x="110.30" y="496.35" width="32.93" height="8.28" fill="#dcf1d7"/><rect x="142.73" y="496.35" width="32.93" height="8.28" fill="#def2d9"/><rect x="175.17" y="496.35" width="32.93" height="8.28" fill="#e2f4dd"/><rect x="207.60" y="496.35" width="32.93" height="8.28" fill="#def2d9"/><rect x="240.03" y="496.35" width="32.93" height="8.28" fill="#e0f3db"/><rect x="272.47" y="496.35" width="32.93" height="8.28" fill="#e0f3db"/><rect x="304.90" y="496.35" width="32.93" height="8.28" fill="#e5f5df"/><rect x="337.33" y="496.35" width="32.93" height="8.28" fill="#e5f5df"/><rect x="369.77" y="496.35" width="32.93" height="8.28" fill="#3294c2"/><rect x="402.20" y="496.35" width="32.93" height="8.28" fill="#ecf8e6"/><rect x="434.63" y="496.35" width="32.93" height="8.28" fill="#9ad8ba"/><rect x="467.07" y="496.35" width="32.93" height="8.28" fill="#08589b"/>
<rect x="110.30" y="504.14" width="32.93" height="8.28" fill="#dcf1d7"/><rect x="142.73" y="504.14" width="32.93" height="8.28" fill="#eef8e8"/><rect x="175.17" y="504.14" width="32.93" height="8.28" fill="#dcf1d7"/><rect x="207.60" y="504.14" width="32.93" height="8.28" fill="#daf1d4"/><rect x="240.03" y="504.14" width="32.93" height="8.28" fill="#e0f3db"/><rect x="272.47" y="504.14" width="32.93" height="8.28" fill="#def2d9"/><rect x="304.90" y="504.14" width="32.93" height="8.28" fill="#e0f3db"/><rect x="337.33" y="504.14" width="32.93" height="8.28" fill="#e5f5df"/><rect x="369.77" y="504.14" width="32.93" height="8.28" fill="#69c2ca"/><rect x="402.20" y="504.14" width="32.93" height="8.28" fill="#1676b3"/><rect x="434.63" y="504.14" width="32.93" height="8.28" fill="#dcf1d7"/><rect x="467.07" y="504.14" width="32.93" height="8.28" fill="#2485ba"/>
<rect x="110.30" y="511.92" width="32.93" height="8.28" fill="#e2f4dd"/><rect x="142.73" y="511.92" width="32.93" height="8.28" fill="#e5f5df"/><rect x="175.17" y="511.92" width="32.93" height="8.28" fill="#dcf1d7"/><rect x="207.60" y="511.92" width="32.93" height="8.28" fill="#dcf1d7"/><rect x="240.03" y="511.92" width="32.93" height="8.28" fill="#dcf1d7"/><rect x="272.47" y="511.92" width="32.93" height="8.28" fill="#dcf1d7"/><rect x="304.90" y="511.92" width="32.93" height="8.28" fill="#96d6bb"/><rect x="337.33" y="511.92" width="32.93" height="8.28" fill="#1d7eb7"/><rect x="369.77" y="511.92" width="32.93" height="8.28" fill="#0f6fb0"/><rect x="402.20" y="511.92" width="32.93" height="8.28" fill="#dcf1d7"/><rect x="434.63" y="511.92" width="32.93" height="8.28" fill="#dcf1d7"/><rect x="467.07" y="511.92" width="32.93" height="8.28" fill="#dcf1d7"/>
</g>
<rect x="110.30" y="108.8" width="194.60" height="17.7" fill="#1b9e77"/>
<rect x="304.90" y="108.8" width="194.60" height="17.7" fill="#d95f02"/>
<text class="rl" transform="translate(503.5,136.24) rotate(0.03)">UBE2J2</text>
<text class="rl" transform="translate(503.5,144.02) rotate(0.03)">MRPL30</text>
<text class="rl" transform="translate(503.5,151.81) rotate(0.03)">SIRT1</text>
<text class="rl" transform="translate(503.5,159.59) rotate(0.03)">NDUFB8</text>
<text class="rl" transform="translate(503.5,167.37) rotate(0.03)">NOL7</text>
<text class="rl" transform="translate(503.5,175.15) rotate(0.03)">CDR2</text>
<text class="rl" transform="translate(503.5,182.93) rotate(0.03)">CXCR4</text>
<text class="rl" transform="translate(503.5,190.72) rotate(0.03)">SMARCA2</text>
<text class="rl" transform="translate(503.5,198.50) rotate(0.03)">CASP2</text>
<text class="rl" transform="translate(503.5,206.28) rotate(0.03)">GAS7</text>
<text class="rl" transform="translate(503.5,214.06) rotate(0.03)">ZNF462</text>
<text class="rl" transform="translate(503.5,221.84) rotate(0.03)">EXT1</text>
<text class="rl" transform="translate(503.5,229.62) rotate(0.03)">INPP4A</text>
<text class="rl" transform="translate(503.5,237.41) rotate(0.03)">MAGI3</text>
<text class="rl" transform="translate(503.5,245.19) rotate(0.03)">GATAD2B</text>
<text class="rl" transform="translate(503.5,252.97) rotate(0.03)">SARS</text>
<text class="rl" transform="translate(503.5,260.75) rotate(0.03)">MASTL</text>
<text class="rl" transform="translate(503.5,268.53) rotate(0.03)">MMS22L</text>
<text class="rl" transform="translate(503.5,276.32) rotate(0.03)">SETD8</text>
<text class="rl" transform="translate(503.5,284.10) rotate(0.03)">ATP5G3</text>
<text class="rl" transform="translate(503.5,291.88) rotate(0.03)">HSBP1</text>
<text class="rl" transform="translate(503.5,299.66) rotate(0.03)">CSNK1G2</text>
<text class="rl" transform="translate(503.5,307.44) rotate(0.03)">SMAD3</text>
<text class="rl" transform="translate(503.5,315.23) rotate(0.03)">TOB1</text>
<text class="rl" transform="translate(503.5,323.01) rotate(0.03)">MED27</text>
<text class="rl" transform="translate(503.5,330.79) rotate(0.03)">CDKL1</text>
<text class="rl" transform="translate(503.5,338.57) rotate(0.03)">ASB7</text>
<text class="rl" transform="translate(503.5,346.36) rotate(0.03)">SNCA</text>
<text class="rl" transform="translate(503.5,354.14) rotate(0.03)">BRI3BP</text>
<text class="rl" transform="translate(503.5,361.92) rotate(0.03)">LRTOMT</text>
<text class="rl" transform="translate(503.5,369.70) rotate(0.03)">CSTB_dup1</text>
<text class="rl" transform="translate(503.5,377.48) rotate(0.03)">OLA1</text>
<text class="rl" transform="translate(503.5,385.26) rotate(0.03)">TXN2</text>
<text class="rl" transform="translate(503.5,393.05) rotate(0.03)">MR1</text>
<text class="rl" transform="translate(503.5,400.83) rotate(0.03)">C13H20orf7</text>
<text class="rl" transform="translate(503.5,408.61) rotate(0.03)">ARL8B</text>
<text class="rl" transform="translate(503.5,416.39) rotate(0.03)">SIRT7</text>
<text class="rl" transform="translate(503.5,424.17) rotate(0.03)">CRYZL1</text>
<text class="rl" transform="translate(503.5,431.96) rotate(0.03)">WDR18</text>
<text class="rl" transform="translate(503.5,439.74) rotate(0.03)">MYL6</text>
<text class="rl" transform="translate(503.5,447.52) rotate(0.03)">POLR2D</text>
<text class="rl" transform="translate(503.5,455.30) rotate(0.03)">SDF2</text>
<text class="rl" transform="translate(503.5,463.09) rotate(0.03)">FIS1</text>
<text class="rl" transform="translate(503.5,470.87) rotate(0.03)">C29H11orf10</text>
<text class="rl" transform="translate(503.5,478.65) rotate(0.03)">ANKRD40_dup1</text>
<text class="rl" transform="translate(503.5,486.43) rotate(0.03)">ATP5S</text>
<text class="rl" transform="translate(503.5,494.21) rotate(0.03)">ABHD16A</text>
<text class="rl" transform="translate(503.5,502.00) rotate(0.03)">CCDC53</text>
<text class="rl" transform="translate(503.5,509.78) rotate(0.03)">C3H1orf182</text>
<text class="rl" transform="translate(503.5,517.56) rotate(0.03)">LSM5</text>
<text class="cl" transform="translate(129.52,524.2) rotate(-90)" text-anchor="end">B8</text>
<text class="cl" transform="translate(161.95,524.2) rotate(-90)" text-anchor="end">B20</text>
<text class="cl" transform="translate(194.38,524.2) rotate(-90)" text-anchor="end">B9</text>
<text class="cl" transform="translate(226.82,524.2) rotate(-90)" text-anchor="end">B18</text>
<text class="cl" transform="translate(259.25,524.2) rotate(-90)" text-anchor="end">B6</text>
<text class="cl" transform="translate(291.68,524.2) rotate(-90)" text-anchor="end">B1</text>
<text class="cl" transform="translate(324.12,524.2) rotate(-90)" text-anchor="end">M7</text>
<text class="cl" transform="translate(356.55,524.2) rotate(-90)" text-anchor="end">M17</text>
<text class="cl" transform="translate(388.98,524.2) rotate(-90)" text-anchor="end">M15</text>
<text class="cl" transform="translate(421.42,524.2) rotate(-90)" text-anchor="end">M14</text>
<text class="cl" transform="translate(453.85,524.2) rotate(-90)" text-anchor="end">M3</text>
<text class="cl" transform="translate(486.28,524.2) rotate(-90)" text-anchor="end">M16</text>
<path class="d" d="M223.82 105.20V59.90H256.25V105.20 M191.38 105.20V52.00H240.03V59.90 M158.95 105.20V49.70H215.71V52.00 M126.52 105.20V45.50H187.33V49.70 M321.12 105.20V73.50H353.55V105.20 M288.68 105.20V61.70H337.33V73.50 M450.85 105.20V65.80H483.28V105.20 M418.42 105.20V53.50H467.07V65.80 M385.98 105.20V46.80H442.74V53.50 M313.01 61.70V33.30H414.36V46.80 M156.92 45.50V4.90H363.69V33.30"/>
<path class="d" d="M106.90 134.39H96.70V142.17H106.90 M96.70 138.28H93.80V149.96H106.90 M106.90 157.74H95.80V165.52H106.90 M93.80 144.12H92.50V161.63H95.80 M106.90 173.30H101.60V181.08H106.90 M101.60 177.19H96.10V188.87H106.90 M106.90 196.65H95.80V204.43H106.90 M96.10 183.03H91.80V200.54H95.80 M92.50 152.87H82.60V191.78H91.80 M106.90 212.21H101.60V219.99H106.90 M101.60 216.10H98.60V227.78H106.90 M106.90 235.56H99.70V243.34H106.90 M98.60 221.94H93.80V239.45H99.70 M93.80 230.69H86.50V251.12H106.90 M82.60 172.33H76.60V240.91H86.50 M106.90 258.90H97.60V266.68H106.90 M97.60 262.79H91.60V274.47H106.90 M106.90 282.25H98.40V290.03H106.90 M91.60 268.63H90.30V286.14H98.40 M106.90 297.81H98.90V305.59H106.90 M98.90 301.70H93.80V313.38H106.90 M93.80 307.54H92.20V321.16H106.90 M90.30 277.39H81.10V314.35H92.20 M76.60 206.62H63.80V295.87H81.10 M106.90 328.94H99.30V336.72H106.90 M106.90 344.50H95.80V352.29H106.90 M99.30 332.83H94.20V348.40H95.80 M94.20 340.61H87.50V360.07H106.90 M106.90 367.85H92.60V375.63H106.90 M92.60 371.74H92.00V383.41H106.90 M87.50 350.34H80.30V377.58H92.00 M106.90 391.20H100.90V398.98H106.90 M100.90 395.09H97.60V406.76H106.90 M97.60 400.92H89.40V414.54H106.90 M80.30 363.96H78.60V407.73H89.40 M106.90 422.32H94.50V430.11H106.90 M94.50 426.22H83.90V437.89H106.90 M106.90 445.67H86.50V453.45H106.90 M83.90 432.05H81.40V449.56H86.50 M106.90 461.24H88.40V469.02H106.90 M81.40 440.81H70.50V465.13H88.40 M106.90 476.80H91.00V484.58H106.90 M91.00 480.69H81.10V492.36H106.90 M106.90 500.14H84.20V507.93H106.90 M81.10 486.53H76.60V504.04H84.20 M76.60 495.28H71.80V515.71H106.90 M70.50 452.97H62.40V505.50H71.80 M78.60 385.85H48.60V479.23H62.40 M63.80 251.24H6.00V432.54H48.60"/>
</svg>
</body></html>
